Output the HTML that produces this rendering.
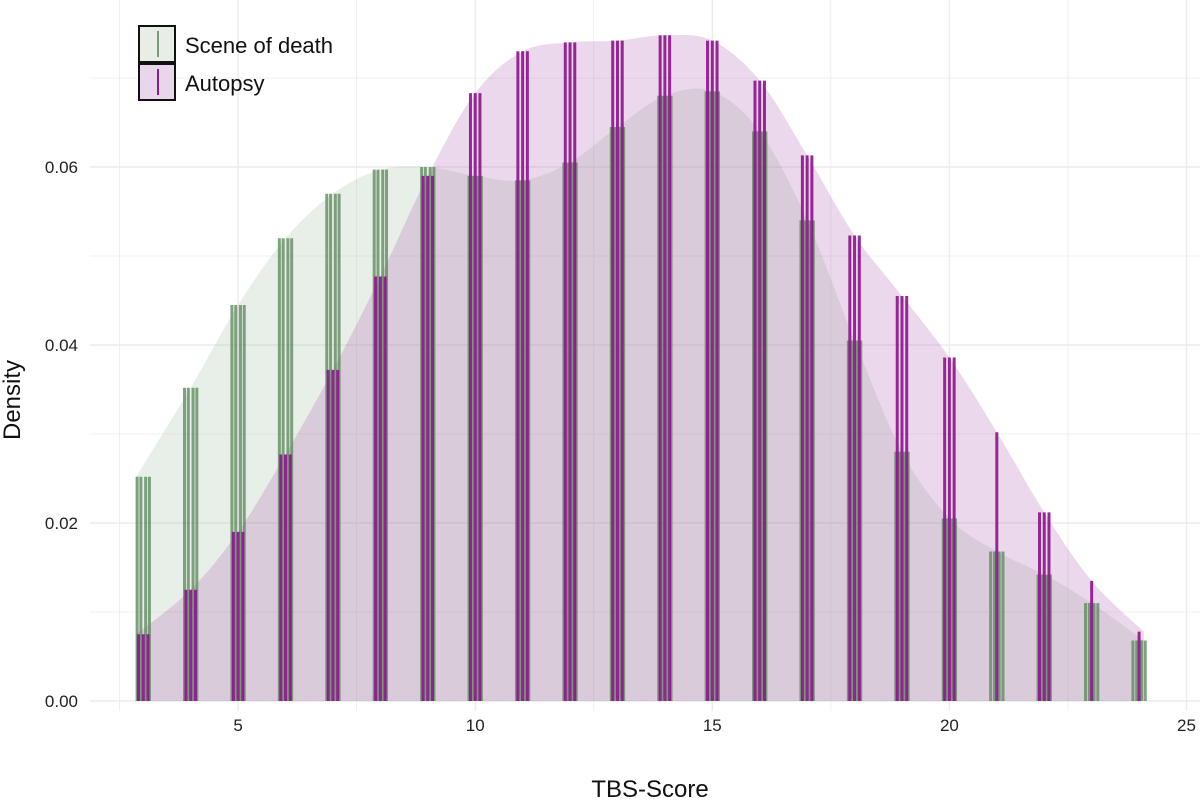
<!DOCTYPE html>
<html><head><meta charset="utf-8"><style>
body{margin:0;background:#fff}
svg text{font-family:"Liberation Sans",sans-serif}
</style></head><body>
<svg id="c" width="1200" height="800"></svg>
<script>
const scores=[3,4,5,6,7,8,9,10,11,12,13,14,15,16,17,18,19,20,21,22,23,24];
const sceneDensity=[0.0252,0.0352,0.0445,0.052,0.057,0.0597,0.06,0.059,0.0585,0.0605,0.0645,0.068,0.0685,0.064,0.054,0.0405,0.028,0.0205,0.0168,0.0142,0.011,0.0068];
const autopsyDensity=[0.0075,0.0125,0.019,0.0277,0.0372,0.0477,0.059,0.0683,0.073,0.074,0.0742,0.0748,0.0742,0.0697,0.0613,0.0523,0.0455,0.0386,0.0302,0.0212,0.0135,0.0078];
const xTicks=[5,10,15,20,25];
const yTicks=[0,0.02,0.04,0.06];
const NS='http://www.w3.org/2000/svg';
const svg=document.getElementById('c');
const X=v=>1+v*47.42;
const Y=v=>701-v*8900;
function mk(t,a,p){const e=document.createElementNS(NS,t);for(const k in a)e.setAttribute(k,a[k]);(p||svg).appendChild(e);return e;}
for(let v=2.5;v<=25;v+=2.5){const g=mk('line',{x1:X(v),x2:X(v),y1:0,y2:711,stroke:'#ebebeb','stroke-width':v%5===0?1.4:0.8});
}
for(let v=0;v<=0.075;v+=0.01){const g=mk('line',{x1:90,x2:1200,y1:Y(v),y2:Y(v),stroke:'#ebebeb','stroke-width':Math.round(v*100)%2===0?1.4:0.8});
}
function curve(xs,ys){let p=[];for(let i=0;i<xs.length;i++)p.push([X(xs[i]),Y(ys[i])]);
let d=`M${p[0][0]},${Y(0)} L${p[0][0]},${p[0][1]}`;
for(let i=0;i<p.length-1;i++){const p0=p[i-1]||p[i],p1=p[i],p2=p[i+1],p3=p[i+2]||p2;
d+=` C${p1[0]+(p2[0]-p0[0])/6},${p1[1]+(p2[1]-p0[1])/6} ${p2[0]-(p3[0]-p1[0])/6},${p2[1]-(p3[1]-p1[1])/6} ${p2[0]},${p2[1]}`;}
return d+` L${p[p.length-1][0]},${Y(0)} Z`;}
const xs=scores.map((s,i)=>i===0?2.85:i===scores.length-1?24.1:s);
const a1=mk('path',{d:curve(xs,sceneDensity),fill:'rgba(170,195,170,0.27)'});

const a2=mk('path',{d:curve(xs,autopsyDensity),fill:'rgba(160,60,160,0.2)'});

const gOff=[-0.13,-0.05,0.05,0.13],pOff=[-0.1,0.0,0.1];
scores.forEach((s,i)=>{
 gOff.forEach(o=>{const l=mk('line',{x1:X(s+o),x2:X(s+o),y1:Y(0),y2:Y(sceneDensity[i]),stroke:'rgba(95,140,95,0.8)','stroke-width':3});
 });
});
scores.forEach((s,i)=>{
 const offs=s>=21&&s!==22?[0]:pOff;
 offs.forEach(o=>{const l=mk('line',{x1:X(s+o),x2:X(s+o),y1:Y(0),y2:Y(autopsyDensity[i]),stroke:'rgba(140,20,140,0.9)','stroke-width':3});
 });
});
xTicks.forEach(v=>{const t=mk('text',{x:X(v),y:731,'text-anchor':'middle','font-size':17,fill:'#222'});t.textContent=v;
});
yTicks.forEach(v=>{const t=mk('text',{x:78,y:Y(v)+6,'text-anchor':'end','font-size':17,fill:'#222'});t.textContent=v.toFixed(2);
});
</script>
<svg width="1200" height="800" style="position:absolute;left:0;top:0">
<text x="650" y="797" text-anchor="middle" font-size="24" fill="#111">TBS-Score</text>
<text transform="translate(20,400) rotate(-90)" text-anchor="middle" font-size="24" fill="#111">Density</text>
<g>
<rect x="139" y="26" width="36" height="36" fill="#e8eee6" stroke="#111" stroke-width="2"/>
<line x1="158" x2="158" y1="31" y2="57" stroke="#7a9a7a" stroke-width="2"/>
<rect x="139" y="64" width="36" height="36" fill="#ead6ea" stroke="#111" stroke-width="2"/>
<line x1="158" x2="158" y1="69" y2="95" stroke="#8e1a8e" stroke-width="2"/>
<text x="185" y="53" font-size="22" fill="#111">Scene of death</text>
<text x="185" y="91" font-size="22" fill="#111">Autopsy</text>
</g>
</svg>
</body></html>
